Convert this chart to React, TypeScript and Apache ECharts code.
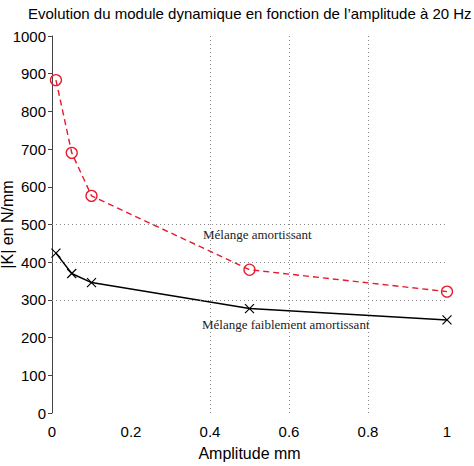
import { useEffect, useRef } from "react";
import * as echarts from "echarts";

// Amplitude (mm) and dynamic modulus |K| (N/mm)
const amplitudes = [0.01, 0.05, 0.1, 0.5, 1];
const damped = [883, 690, 576, 380, 322];
const lowDamped = [424, 370, 346, 277, 247];

const xTicks = [0.4, 0.6, 0.8];
const yGrid = [300, 400, 500];

const TITLE = "Evolution du module dynamique en fonction de l\u2019amplitude à 20 Hz";

export default function App() {
  const ref = useRef<HTMLDivElement>(null);

  useEffect(() => {
    if (!ref.current) return;
    const chart = echarts.init(ref.current, undefined, { renderer: "svg" });
    const font = "'Liberation Sans', Arial, sans-serif";
    const serif = "'Liberation Serif', 'Times New Roman', serif";
    const dotted = { color: "#888", type: [1, 3] as number[], width: 1 };

    chart.setOption({
      animation: false,
      grid: { left: 52, right: 27, top: 36, bottom: 53, outerBoundsMode: "none", containLabel: false },
      xAxis: {
        type: "value",
        min: 0,
        max: 1,
        interval: 0.2,
        name: "Amplitude mm",
        nameLocation: "middle",
        nameGap: 32,
        nameMoveOverlap: false,
        nameTextStyle: { fontFamily: font, fontSize: 16, color: "#000" },
        axisLine: { show: false },
        axisTick: { show: false },
        splitLine: { show: false },
        axisLabel: {
          fontFamily: font,
          fontSize: 15,
          color: "#000",
          margin: 11,
          formatter: (v: number) => String(Math.round(v * 10) / 10),
        },
      },
      yAxis: {
        type: "value",
        min: 0,
        max: 1000,
        interval: 100,
        name: "|K| en N/mm",
        nameLocation: "middle",
        nameGap: 37,
        nameMoveOverlap: false,
        nameTextStyle: { fontFamily: font, fontSize: 16, color: "#000" },
        axisLine: { show: true, lineStyle: { color: "#444", width: 1 } },
        axisTick: { show: true, length: 4, lineStyle: { color: "#444" } },
        splitLine: { show: false },
        axisLabel: {
          fontFamily: font,
          fontSize: 15,
          color: "#000",
          margin: 6,
          formatter: (v: number) => String(v),
        },
      },
      graphic: [
        {
          type: "text",
          left: 28,
          top: 6,
          style: { text: TITLE, fontFamily: font, fontSize: 15, fill: "#000" },
        },
        {
          type: "text",
          left: 203,
          top: 228,
          style: { text: "Mélange amortissant", fontFamily: serif, fontSize: 13, fill: "#222" },
        },
        {
          type: "text",
          left: 202,
          top: 318,
          style: {
            text: "Mélange faiblement amortissant",
            fontFamily: serif,
            fontSize: 13,
            fill: "#222",
          },
        },
      ],
      series: [
        {
          type: "line",
          data: [],
          markLine: {
            silent: true,
            symbol: "none",
            label: { show: false },
            lineStyle: dotted,
            data: [
              ...xTicks.map((x) => ({ xAxis: x })),
              ...yGrid.map((y) => [
                { coord: [0, y] },
                { coord: [1, y] },
              ]),
            ],
          },
        },
        {
          type: "line",
          data: amplitudes.map((x, i) => [x, damped[i]]),
          symbol: "circle",
          symbolSize: 11,
          itemStyle: { color: "rgba(0,0,0,0)", borderColor: "#e8192c", borderWidth: 1.3 },
          lineStyle: { color: "#e8192c", type: [6, 4], width: 1.4 },
          z: 3,
        },
        {
          type: "line",
          data: amplitudes.map((x, i) => [x, lowDamped[i]]),
          symbol: "path://M0,0L10,10M10,0L0,10",
          symbolSize: 9,
          itemStyle: { color: "rgba(0,0,0,0)", borderColor: "#000", borderWidth: 1.2 },
          lineStyle: { color: "#000", width: 1.5 },
          z: 3,
        },
      ],
    });

    return () => chart.dispose();
  }, []);

  return (
    <div
      ref={ref}
      style={{ position: "fixed", left: 0, top: 0, width: 474, height: 466, background: "#fff" }}
    />
  );
}
